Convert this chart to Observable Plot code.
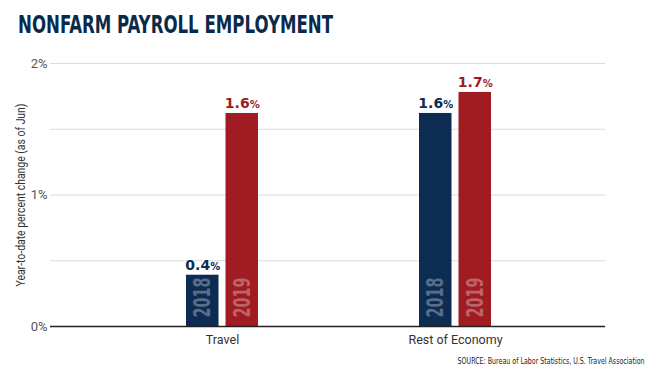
<!DOCTYPE html>
<html>
<head>
<meta charset="utf-8">
<script src="https://cdn.jsdelivr.net/npm/d3@7"></script>
<script src="https://cdn.jsdelivr.net/npm/@observablehq/plot@0.6"></script>
<style>
  html, body { margin: 0; padding: 0; background: #fff; }
  #wrap { position: relative; width: 660px; height: 375px; overflow: hidden; }
  #title { position: absolute; left: 0; top: 0; }
  #source { position: absolute; right: 15px; top: 356px; white-space: nowrap;
    font-family: "DejaVu Sans Condensed", "DejaVu Sans", sans-serif; font-size: 9px; line-height: 11px; color: #222;
    transform-origin: right center; }
  #chart { position: absolute; left: 0; top: 0; }
</style>
</head>
<body>
<div id="wrap">
  <div id="chart"></div>
  <svg id="title" width="660" height="50">
    <text x="18" y="33" textLength="315" lengthAdjust="spacingAndGlyphs"
      font-family="DejaVu Sans Condensed, DejaVu Sans" font-weight="bold" font-size="24" fill="#0b2a4a">NONFARM PAYROLL EMPLOYMENT</text>
  </svg>
  <div id="source">SOURCE: Bureau of Labor Statistics, U.S. Travel Association</div>
</div>
<script>
const categories = ["Travel", "Rest of Economy"];
const years = ["2018", "2019"];
const values2018 = [0.39, 1.62];
const values2019 = [1.62, 1.78];
const labels2018 = ["0.4%", "1.6%"];
const labels2019 = ["1.6%", "1.7%"];
const yTicks = [0, 1, 2];
const gridLines = [0.5, 1, 1.5, 2];
const yLabel = "Year-to-date percent change (as of Jun)";

const navy = "#0c2c52";
const red = "#a01c22";

const rows2018 = categories.map((c, i) => ({category: c, year: years[0], value: values2018[i], label: labels2018[i]}));
const rows2019 = categories.map((c, i) => ({category: c, year: years[1], value: values2019[i], label: labels2019[i]}));

const barInset = 39.5;
const off = 19.75;

const chart = Plot.plot({
  width: 660,
  height: 375,
  marginTop: 63,
  marginBottom: 49,
  marginLeft: 50,
  marginRight: 55,
  style: {fontFamily: "Roboto, sans-serif", background: "transparent"},
  x: {domain: categories, range: [186, 491], paddingInner: 0.691, paddingOuter: 0, label: null},
  y: {domain: [0, 2], label: null},
  marks: [
    Plot.ruleY(gridLines, {stroke: "#dcdcdc", strokeWidth: 1}),
    Plot.axisY(yTicks, {tickSize: 0, tickPadding: 3, tickFormat: d => d + "%", fontSize: 13, fill: "#555",
      label: yLabel, labelAnchor: "center", labelOffset: 34, labelArrow: "none"}),
    Plot.axisX({tickSize: 0, tickPadding: 9, fontSize: 12.5, fill: "#333", label: null}),
    Plot.barY(rows2018, {x: "category", y: "value", fill: navy, insetRight: barInset}),
    Plot.barY(rows2019, {x: "category", y: "value", fill: red, insetLeft: barInset}),
    Plot.text(rows2018, {x: "category", y: "value", text: "label", dx: -off, dy: -5, lineAnchor: "bottom",
      fill: navy, fontWeight: "bold", fontSize: 14, fontFamily: "DejaVu Sans, sans-serif"}),
    Plot.text(rows2019, {x: "category", y: "value", text: "label", dx: off, dy: -5, lineAnchor: "bottom",
      fill: red, fontWeight: "bold", fontSize: 14, fontFamily: "DejaVu Sans, sans-serif"}),
    Plot.text(rows2018, {x: "category", y: () => 0, text: "year", rotate: -90, textAnchor: "start", dx: -off, dy: -9,
      fill: "rgba(255,255,255,0.32)", fontWeight: "bold", fontSize: 23, fontFamily: "DejaVu Sans Condensed, DejaVu Sans"}),
    Plot.text(rows2019, {x: "category", y: () => 0, text: "year", rotate: -90, textAnchor: "start", dx: off, dy: -9,
      fill: "rgba(255,255,255,0.32)", fontWeight: "bold", fontSize: 23, fontFamily: "DejaVu Sans Condensed, DejaVu Sans"}),
    Plot.ruleY([0], {stroke: "#222", strokeWidth: 1.5})
  ]
});

document.getElementById("chart").appendChild(chart);

// style value labels: smaller percent sign; condensed year labels
d3.select(chart).selectAll('g[aria-label="text"] text').each(function() {
  const t = d3.select(this);
  const s = t.text();
  if (years.includes(s)) {
    t.attr("textLength", 40).attr("lengthAdjust", "spacingAndGlyphs");
  } else if (s.endsWith("%")) {
    const num = s.slice(0, -1);
    t.text(null);
    t.append("tspan").text(num);
    t.append("tspan").attr("font-size", 10).text("%");
  }
});
d3.select(chart).selectAll('g[aria-label="y-axis label"] text')
  .attr("font-size", 12).attr("fill", "#333")
  .attr("textLength", 183).attr("lengthAdjust", "spacingAndGlyphs");

// fit source line to its width in the reference
const src = document.getElementById("source");
const w = src.getBoundingClientRect().width;
src.style.transform = `scaleX(${187 / w})`;
</script>
</body>
</html>
